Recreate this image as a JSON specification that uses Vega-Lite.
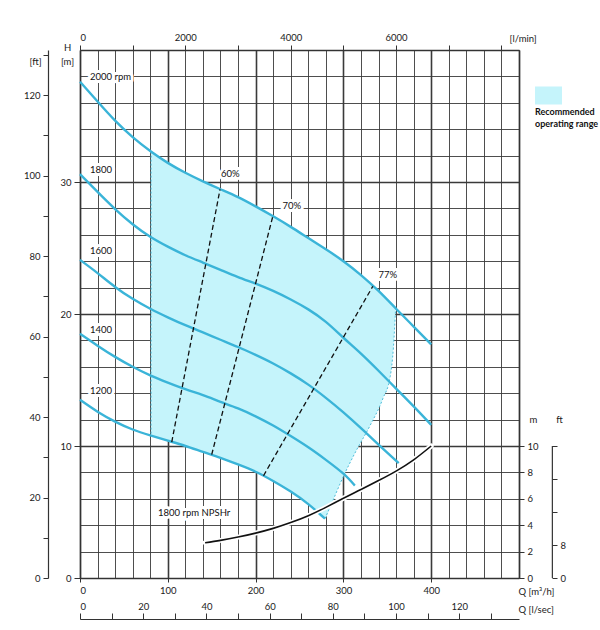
{
  "$schema": "https://vega.github.io/schema/vega-lite/v6.json",
  "width": 439,
  "height": 528,
  "autosize": {"type": "none"},
  "padding": {"left": 80, "top": 50, "right": 81, "bottom": 52},
  "background": "white",
  "config": {
    "font": "Lato",
    "view": {"stroke": null},
    "axis": {
      "labelFont": "Lato", "labelFontSize": 9.5, "labelColor": "#1a1a1a",
      "titleFont": "Lato", "titleFontSize": 9.5, "titleFontWeight": "normal", "titleColor": "#1a1a1a",
      "tickColor": "#333", "domainColor": "#333", "domainWidth": 1.2, "tickWidth": 1, "grid": false
    }
  },
  "datasets": {
    "curves": [
      {"rpm": "2000", "Q": 0, "H": 37.6}, {"rpm": "2000", "Q": 20, "H": 36.1}, {"rpm": "2000", "Q": 40, "H": 34.65}, {"rpm": "2000", "Q": 60, "H": 33.4}, {"rpm": "2000", "Q": 80, "H": 32.35}, {"rpm": "2000", "Q": 100, "H": 31.45}, {"rpm": "2000", "Q": 120, "H": 30.7}, {"rpm": "2000", "Q": 140, "H": 30.05}, {"rpm": "2000", "Q": 160, "H": 29.45}, {"rpm": "2000", "Q": 180, "H": 28.85}, {"rpm": "2000", "Q": 200, "H": 28.15}, {"rpm": "2000", "Q": 220, "H": 27.4}, {"rpm": "2000", "Q": 240, "H": 26.6}, {"rpm": "2000", "Q": 260, "H": 25.75}, {"rpm": "2000", "Q": 280, "H": 24.9}, {"rpm": "2000", "Q": 300, "H": 24.0}, {"rpm": "2000", "Q": 320, "H": 22.95}, {"rpm": "2000", "Q": 340, "H": 21.75}, {"rpm": "2000", "Q": 360, "H": 20.4}, {"rpm": "2000", "Q": 380, "H": 19.05}, {"rpm": "2000", "Q": 400, "H": 17.7},
      {"rpm": "1800", "Q": 0, "H": 30.6}, {"rpm": "1800", "Q": 20, "H": 29.25}, {"rpm": "1800", "Q": 40, "H": 27.95}, {"rpm": "1800", "Q": 60, "H": 26.8}, {"rpm": "1800", "Q": 80, "H": 25.85}, {"rpm": "1800", "Q": 100, "H": 25.1}, {"rpm": "1800", "Q": 120, "H": 24.45}, {"rpm": "1800", "Q": 140, "H": 23.9}, {"rpm": "1800", "Q": 160, "H": 23.35}, {"rpm": "1800", "Q": 180, "H": 22.8}, {"rpm": "1800", "Q": 200, "H": 22.3}, {"rpm": "1800", "Q": 220, "H": 21.75}, {"rpm": "1800", "Q": 240, "H": 21.1}, {"rpm": "1800", "Q": 260, "H": 20.35}, {"rpm": "1800", "Q": 280, "H": 19.4}, {"rpm": "1800", "Q": 300, "H": 18.2}, {"rpm": "1800", "Q": 320, "H": 17.0}, {"rpm": "1800", "Q": 340, "H": 15.7}, {"rpm": "1800", "Q": 360, "H": 14.35}, {"rpm": "1800", "Q": 380, "H": 13.0}, {"rpm": "1800", "Q": 400, "H": 11.6},
      {"rpm": "1600", "Q": 0, "H": 24.1}, {"rpm": "1600", "Q": 20, "H": 23.1}, {"rpm": "1600", "Q": 40, "H": 22.05}, {"rpm": "1600", "Q": 60, "H": 21.15}, {"rpm": "1600", "Q": 80, "H": 20.4}, {"rpm": "1600", "Q": 100, "H": 19.75}, {"rpm": "1600", "Q": 120, "H": 19.15}, {"rpm": "1600", "Q": 140, "H": 18.6}, {"rpm": "1600", "Q": 160, "H": 18.05}, {"rpm": "1600", "Q": 180, "H": 17.5}, {"rpm": "1600", "Q": 200, "H": 16.9}, {"rpm": "1600", "Q": 220, "H": 16.25}, {"rpm": "1600", "Q": 240, "H": 15.5}, {"rpm": "1600", "Q": 260, "H": 14.65}, {"rpm": "1600", "Q": 280, "H": 13.65}, {"rpm": "1600", "Q": 300, "H": 12.55}, {"rpm": "1600", "Q": 320, "H": 11.35}, {"rpm": "1600", "Q": 340, "H": 10.1}, {"rpm": "1600", "Q": 363, "H": 8.7},
      {"rpm": "1400", "Q": 0, "H": 18.5}, {"rpm": "1400", "Q": 20, "H": 17.6}, {"rpm": "1400", "Q": 40, "H": 16.75}, {"rpm": "1400", "Q": 60, "H": 16.0}, {"rpm": "1400", "Q": 80, "H": 15.35}, {"rpm": "1400", "Q": 100, "H": 14.8}, {"rpm": "1400", "Q": 120, "H": 14.3}, {"rpm": "1400", "Q": 140, "H": 13.85}, {"rpm": "1400", "Q": 160, "H": 13.35}, {"rpm": "1400", "Q": 180, "H": 12.85}, {"rpm": "1400", "Q": 200, "H": 12.25}, {"rpm": "1400", "Q": 220, "H": 11.55}, {"rpm": "1400", "Q": 240, "H": 10.75}, {"rpm": "1400", "Q": 260, "H": 9.9}, {"rpm": "1400", "Q": 280, "H": 8.95}, {"rpm": "1400", "Q": 300, "H": 7.9}, {"rpm": "1400", "Q": 313, "H": 7.0},
      {"rpm": "1200", "Q": 0, "H": 13.5}, {"rpm": "1200", "Q": 20, "H": 12.6}, {"rpm": "1200", "Q": 40, "H": 11.85}, {"rpm": "1200", "Q": 60, "H": 11.25}, {"rpm": "1200", "Q": 80, "H": 10.8}, {"rpm": "1200", "Q": 100, "H": 10.4}, {"rpm": "1200", "Q": 120, "H": 10.0}, {"rpm": "1200", "Q": 140, "H": 9.55}, {"rpm": "1200", "Q": 160, "H": 9.1}, {"rpm": "1200", "Q": 180, "H": 8.6}, {"rpm": "1200", "Q": 200, "H": 8.05}, {"rpm": "1200", "Q": 220, "H": 7.35}, {"rpm": "1200", "Q": 240, "H": 6.55}, {"rpm": "1200", "Q": 260, "H": 5.6}, {"rpm": "1200", "Q": 279, "H": 4.5}
    ],
    "region": [
      {"Q": 81, "Htop": 32.3, "Hbot": 10.78}, {"Q": 100, "Htop": 31.45, "Hbot": 10.4}, {"Q": 120, "Htop": 30.7, "Hbot": 10.0}, {"Q": 140, "Htop": 30.05, "Hbot": 9.55}, {"Q": 160, "Htop": 29.45, "Hbot": 9.1}, {"Q": 180, "Htop": 28.85, "Hbot": 8.6}, {"Q": 200, "Htop": 28.15, "Hbot": 8.05}, {"Q": 220, "Htop": 27.4, "Hbot": 7.35}, {"Q": 240, "Htop": 26.6, "Hbot": 6.55}, {"Q": 260, "Htop": 25.75, "Hbot": 5.6}, {"Q": 279, "Htop": 24.95, "Hbot": 4.5}, {"Q": 285, "Htop": 24.7, "Hbot": 5.4}, {"Q": 300, "Htop": 24.0, "Hbot": 7.7}, {"Q": 315, "Htop": 23.2, "Hbot": 9.7}, {"Q": 330, "Htop": 22.35, "Hbot": 11.5}, {"Q": 345, "Htop": 21.4, "Hbot": 13.6}, {"Q": 353.3, "Htop": 20.85, "Hbot": 15.25}, {"Q": 357, "Htop": 20.6, "Hbot": 17.5}, {"Q": 359.5, "Htop": 20.45, "Hbot": 20.45}
    ],
    "edges": [
      {"side": "left", "Q": 81, "H": 32.3}, {"side": "left", "Q": 81, "H": 10.78},
      {"side": "right", "Q": 279, "H": 4.5}, {"side": "right", "Q": 285, "H": 5.4}, {"side": "right", "Q": 300, "H": 7.7}, {"side": "right", "Q": 315, "H": 9.7}, {"side": "right", "Q": 330, "H": 11.5}, {"side": "right", "Q": 345, "H": 13.6}, {"side": "right", "Q": 353.3, "H": 15.25}, {"side": "right", "Q": 357, "H": 17.5}, {"side": "right", "Q": 359.5, "H": 20.45}
    ],
    "eff": [
      {"eff": "60%", "Q": 159.5, "H": 29.45}, {"eff": "60%", "Q": 104.5, "H": 10.3},
      {"eff": "70%", "Q": 219.6, "H": 27.4}, {"eff": "70%", "Q": 150, "H": 9.35},
      {"eff": "77%", "Q": 333.5, "H": 22.1}, {"eff": "77%", "Q": 209, "H": 7.75}
    ],
    "npsh": [
      {"Q": 142.5, "H": 2.67}, {"Q": 160, "H": 2.85}, {"Q": 180, "H": 3.1}, {"Q": 200, "H": 3.4}, {"Q": 220, "H": 3.76}, {"Q": 240, "H": 4.2}, {"Q": 260, "H": 4.72}, {"Q": 280, "H": 5.35}, {"Q": 300, "H": 6.04}, {"Q": 320, "H": 6.7}, {"Q": 340, "H": 7.38}, {"Q": 360, "H": 8.1}, {"Q": 380, "H": 8.95}, {"Q": 400, "H": 10.0}
    ],
    "labels": [
      {"label": "2000  rpm", "Q": 11.4, "H": 37.93},
      {"label": "1800", "Q": 11.4, "H": 30.9},
      {"label": "1600", "Q": 11.4, "H": 24.8},
      {"label": "1400", "Q": 11.4, "H": 18.79},
      {"label": "1200", "Q": 11.4, "H": 14.19},
      {"label": "60%", "Q": 160.7, "H": 30.6},
      {"label": "70%", "Q": 230.5, "H": 28.2},
      {"label": "77%", "Q": 340, "H": 22.93},
      {"label": "1800 rpm NPSHr", "Q": 88.9, "H": 4.95}
    ]
  },
  "resolve": {"axis": {"x": "independent", "y": "independent"}},
  "layer": [
    {
      "data": {"name": "region"},
      "mark": {"type": "area", "interpolate": "monotone", "opacity": 1},
      "encoding": {
        "x": {"field": "Q", "type": "quantitative", "scale": {"domain": [0, 500], "nice": false, "zero": false},
          "axis": {"orient": "bottom", "title": null, "labels": false, "ticks": false, "domain": false, "grid": true,
            "values": [0,20,40,60,80,100,120,140,160,180,200,220,240,260,280,300,320,340,360,380,400,420,440,460,480,500],
            "gridColor": "#3a3a3a", "gridOpacity": 1,
            "gridWidth": {"condition": {"test": "datum.value % 100 === 0", "value": 1.6}, "value": 0.9}}},
        "y": {"field": "Htop", "type": "quantitative", "scale": {"domain": [0, 40], "nice": false, "zero": false},
          "axis": {"orient": "left", "title": null, "labels": false, "ticks": false, "domain": false, "grid": true,
            "values": [0,2,4,6,8,10,12,14,16,18,20,22,24,26,28,30,32,34,36,38,40],
            "gridColor": "#3a3a3a", "gridOpacity": 1,
            "gridWidth": {"condition": {"test": "datum.value % 10 === 0", "value": 1.6}, "value": 0.9}}},
        "y2": {"field": "Hbot"},
        "fill": {"datum": "Recommended operating range", "type": "nominal", "scale": {"range": ["#c5f4fb"]},
          "legend": {"orient": "none", "legendX": 455, "legendY": 32, "padding": 0,
            "symbolType": "M-1,-0.667H1V0.667H-1Z", "symbolSize": 729, "symbolStrokeWidth": 0, "symbolOpacity": 1,
            "labelExpr": "''", "title": ["Recommended", "operating range"], "titleOrient": "bottom",
            "titleFont": "Lato", "titleFontSize": 9, "titleFontWeight": "bold", "titleColor": "#111",
            "titleLineHeight": 11.5, "titleAnchor": "start", "titleAlign": "left", "titlePadding": 3}}
      }
    },
    {
      "data": {"name": "edges"},
      "mark": {"type": "line", "interpolate": "monotone", "strokeDash": [2, 2], "strokeWidth": 1, "color": "#4fbcd9"},
      "encoding": {
        "x": {"field": "Q", "type": "quantitative", "scale": {"domain": [0, 500], "nice": false, "zero": false}, "axis": null},
        "y": {"field": "H", "type": "quantitative", "scale": {"domain": [0, 40], "nice": false, "zero": false}, "axis": null},
        "detail": {"field": "side"}
      }
    },
    {
      "data": {"name": "curves"},
      "mark": {"type": "line", "interpolate": "natural", "strokeWidth": 2.4, "color": "#3ab4d8"},
      "encoding": {
        "x": {"field": "Q", "type": "quantitative", "scale": {"domain": [0, 500], "nice": false, "zero": false},
          "axis": {"orient": "bottom", "values": [0, 100, 200, 300, 400], "tickSize": 4, "labelPadding": 3,
            "title": "Q [m³/h]", "titleX": 438, "titleY": 13, "titleAlign": "left", "titleBaseline": "middle", "titleAngle": 0}},
        "y": {"field": "H", "type": "quantitative", "scale": {"domain": [0, 40], "nice": false, "zero": false},
          "axis": {"orient": "left", "values": [0, 10, 20, 30], "tickSize": 6, "labelPadding": 3,
            "title": ["H", "[m]"], "titleAngle": 0, "titleX": -13, "titleY": -8, "titleAlign": "center", "titleBaseline": "top", "titleLineHeight": 14}},
        "detail": {"field": "rpm"}
      }
    },
    {
      "data": {"name": "eff"},
      "mark": {"type": "line", "strokeDash": [5, 3], "strokeWidth": 1.3, "color": "#111"},
      "encoding": {
        "x": {"field": "Q", "type": "quantitative", "scale": {"domain": [0, 500], "nice": false, "zero": false}, "axis": null},
        "y": {"field": "H", "type": "quantitative", "scale": {"domain": [0, 40], "nice": false, "zero": false},
          "axis": {"orient": "left", "offset": 32, "tickSize": 5, "labelPadding": 3,
            "values": [0, 3.048, 6.096, 9.144, 12.192, 15.24, 18.288, 21.336, 24.384, 27.432, 30.48, 33.528, 36.576, 39.624],
            "labelExpr": "round(datum.value / 0.3048) % 20 === 0 ? format(round(datum.value / 0.3048), 'd') : ''",
            "title": "[ft]", "titleAngle": 0, "titleX": -13, "titleY": 11, "titleAlign": "center", "titleBaseline": "middle"}},
        "detail": {"field": "eff"}
      }
    },
    {
      "data": {"name": "npsh"},
      "mark": {"type": "line", "interpolate": "natural", "strokeWidth": 5, "color": "white", "strokeCap": "round"},
      "encoding": {
        "x": {"field": "Q", "type": "quantitative", "scale": {"domain": [0, 500], "nice": false, "zero": false},
          "axis": {"orient": "top", "tickSize": 5, "labelPadding": 3,
            "values": [0, 60, 120, 180, 240, 300, 360, 420, 480],
            "labelExpr": "datum.value < 450 && datum.value % 120 === 0 ? format(round(datum.value / 0.06), 'd') : ''",
            "title": "[l/min]", "titleX": 429, "titleY": -12, "titleAlign": "left", "titleBaseline": "middle", "titleAngle": 0}},
        "y": {"field": "H", "type": "quantitative", "scale": {"domain": [0, 40], "nice": false, "zero": false},
          "axis": {"orient": "right", "values": [0, 2, 4, 6, 8, 10], "tickSize": 5, "labelPadding": 3,
            "title": "m", "titleAngle": 0, "titleX": 14, "titleY": 369, "titleAlign": "center", "titleBaseline": "middle"}}
      }
    },
    {
      "data": {"name": "npsh"},
      "mark": {"type": "line", "interpolate": "natural", "strokeWidth": 1.6, "color": "#111"},
      "encoding": {
        "x": {"field": "Q", "type": "quantitative", "scale": {"domain": [0, 500], "nice": false, "zero": false},
          "axis": {"orient": "top", "offset": -569, "tickSize": 6, "labelPadding": 2,
            "values": [0, 36, 72, 108, 144, 180, 216, 252, 288, 324, 360, 396, 432, 468],
            "labelExpr": "round(datum.value / 3.6) % 20 === 0 ? format(round(datum.value / 3.6), 'd') : ''",
            "title": "Q [l/sec]", "titleX": 438, "titleY": -10, "titleAlign": "left", "titleBaseline": "middle", "titleAngle": 0}},
        "y": {"field": "H", "type": "quantitative", "scale": {"domain": [0, 40], "nice": false, "zero": false},
          "axis": {"orient": "right", "offset": 33, "domain": false, "tickSize": 5, "labelPadding": 3,
            "values": [0, 2.5, 5, 7.5, 10],
            "labelExpr": "datum.value === 0 ? '0' : datum.value === 2.5 ? '8' : ''",
            "title": "ft", "titleAngle": 0, "titleX": 7, "titleY": 369, "titleAlign": "center", "titleBaseline": "middle"}}
      }
    },
    {
      "data": {"values": [{"Q": 538, "H0": 0, "H1": 10}]},
      "mark": {"type": "rule", "color": "#333", "strokeWidth": 1.2, "clip": false},
      "encoding": {
        "x": {"field": "Q", "type": "quantitative", "scale": {"domain": [0, 500], "nice": false, "zero": false}, "axis": null},
        "y": {"field": "H0", "type": "quantitative", "scale": {"domain": [0, 40], "nice": false, "zero": false}, "axis": null},
        "y2": {"field": "H1"}
      }
    },
    {
      "data": {"name": "labels"},
      "mark": {"type": "text", "align": "left", "baseline": "middle", "font": "Lato", "fontSize": 9.5, "stroke": "white", "strokeWidth": 6, "strokeJoin": "round", "fill": "white"},
      "encoding": {
        "x": {"field": "Q", "type": "quantitative", "scale": {"domain": [0, 500], "nice": false, "zero": false}, "axis": null},
        "y": {"field": "H", "type": "quantitative", "scale": {"domain": [0, 40], "nice": false, "zero": false}, "axis": null},
        "text": {"field": "label"}
      }
    },
    {
      "data": {"name": "labels"},
      "mark": {"type": "text", "align": "left", "baseline": "middle", "font": "Lato", "fontSize": 9.5, "fill": "#111"},
      "encoding": {
        "x": {"field": "Q", "type": "quantitative", "scale": {"domain": [0, 500], "nice": false, "zero": false}, "axis": null},
        "y": {"field": "H", "type": "quantitative", "scale": {"domain": [0, 40], "nice": false, "zero": false}, "axis": null},
        "text": {"field": "label"}
      }
    }
  ]
}
